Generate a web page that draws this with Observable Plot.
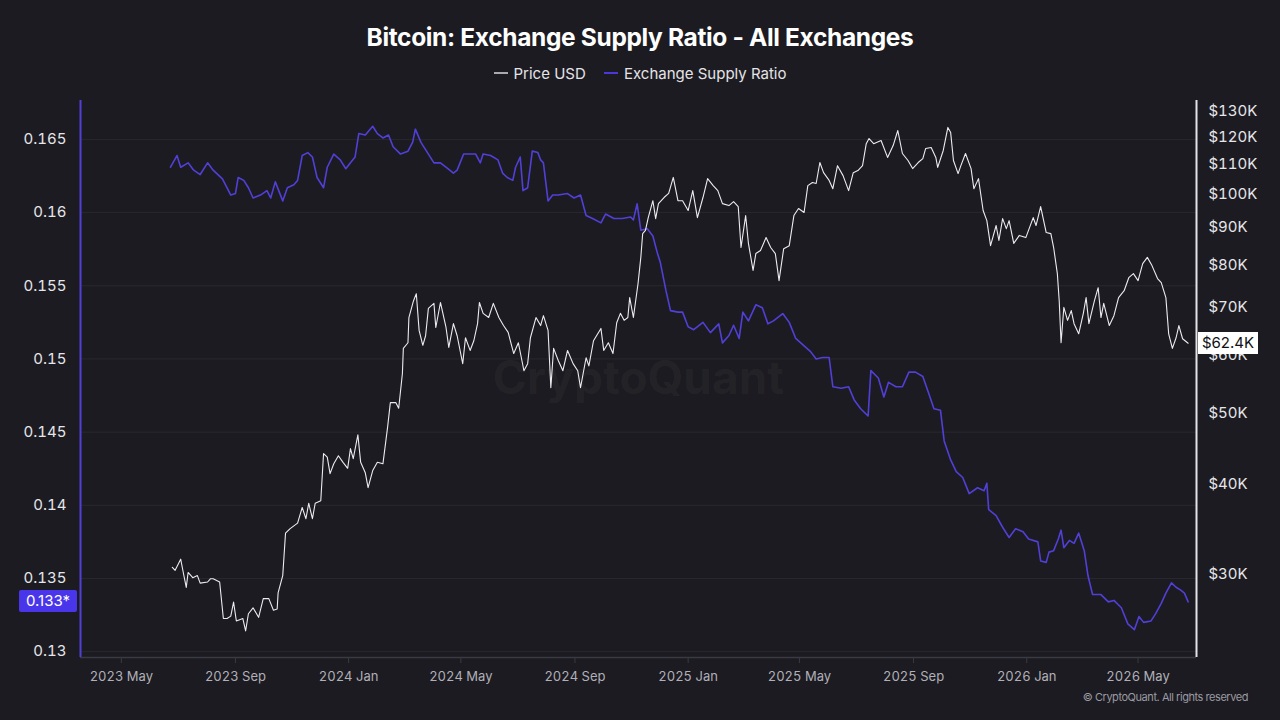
<!DOCTYPE html>
<html>
<head>
<meta charset="utf-8">
<script src="https://cdn.jsdelivr.net/npm/d3@7"></script>
<script src="https://cdn.jsdelivr.net/npm/@observablehq/plot@0.6"></script>
<style>
  html, body { margin: 0; padding: 0; background: #1c1b21; }
  #wrap { position: relative; width: 1280px; height: 720px; overflow: hidden; font-family: Inter, "Noto Sans", sans-serif; }
  #title { position: absolute; top: 22px; left: 0; width: 1280px; text-align: center; color: #ffffff; font-size: 24.5px; font-weight: 700; letter-spacing: -0.35px; }
  #legend { position: absolute; top: 59px; left: 0; width: 1280px; text-align: center; color: #e4e4e8; font-size: 15px; }
  #legend .item { display: inline-flex; align-items: center; margin: 0 7px; }
  #legend .sw { display: inline-block; width: 14px; height: 2px; margin-right: 6px; }
  .layer { position: absolute; left: 0; top: 90px; }
  .badge { position: absolute; height: 22px; line-height: 22px; font-size: 15px; text-align: center; }
  #copy { position: absolute; right: 32px; top: 690px; color: #9a9aa2; font-size: 11px; letter-spacing: -0.45px; }
</style>
</head>
<body>
<div id="wrap">
  <div id="title">Bitcoin: Exchange Supply Ratio - All Exchanges</div>
  <div id="legend">
    <span class="item"><span class="sw" style="background:#a9a9b0"></span>Price USD</span>
    <span class="item"><span class="sw" style="background:#4a38dc"></span>Exchange Supply Ratio</span>
  </div>
  <div id="layer1" class="layer"></div>
  <div id="layer2" class="layer"></div>
  <div id="copy">© CryptoQuant. All rights reserved</div>
</div>
<script>
// ---------- data ----------
const ratioDates = ["2023-06-23","2023-06-30","2023-07-04","2023-07-12","2023-07-18","2023-07-25","2023-08-02","2023-08-08","2023-08-18","2023-08-27","2023-09-01","2023-09-04","2023-09-10","2023-09-15","2023-09-20","2023-09-28","2023-10-05","2023-10-09","2023-10-14","2023-10-22","2023-10-27","2023-11-03","2023-11-07","2023-11-12","2023-11-18","2023-11-23","2023-11-28","2023-12-05","2023-12-09","2023-12-16","2023-12-23","2023-12-29","2024-01-03","2024-01-08","2024-01-12","2024-01-19","2024-01-27","2024-02-01","2024-02-07","2024-02-13","2024-02-18","2024-02-26","2024-03-05","2024-03-10","2024-03-13","2024-03-19","2024-03-26","2024-04-02","2024-04-09","2024-04-17","2024-04-23","2024-04-27","2024-05-04","2024-05-11","2024-05-17","2024-05-22","2024-05-25","2024-06-02","2024-06-10","2024-06-15","2024-06-20","2024-06-26","2024-06-29","2024-07-04","2024-07-07","2024-07-12","2024-07-17","2024-07-23","2024-07-26","2024-07-29","2024-08-03","2024-08-08","2024-08-14","2024-08-24","2024-08-31","2024-09-07","2024-09-13","2024-09-20","2024-09-29","2024-10-04","2024-10-13","2024-10-22","2024-10-31","2024-11-03","2024-11-07","2024-11-11","2024-11-18","2024-11-24","2024-11-29","2024-12-02","2024-12-08","2024-12-13","2024-12-21","2024-12-26","2025-01-01","2025-01-07","2025-01-17","2025-01-25","2025-02-03","2025-02-07","2025-02-14","2025-02-19","2025-02-25","2025-03-01","2025-03-07","2025-03-15","2025-03-22","2025-03-28","2025-04-03","2025-04-13","2025-04-20","2025-04-27","2025-05-06","2025-05-13","2025-05-19","2025-05-26","2025-06-02","2025-06-06","2025-06-15","2025-06-23","2025-06-29","2025-07-06","2025-07-14","2025-07-17","2025-07-25","2025-07-31","2025-08-05","2025-08-13","2025-08-20","2025-08-27","2025-09-03","2025-09-11","2025-09-17","2025-09-23","2025-09-30","2025-10-04","2025-10-11","2025-10-17","2025-10-24","2025-10-31","2025-11-09","2025-11-16","2025-11-19","2025-11-21","2025-11-29","2025-12-06","2025-12-13","2025-12-20","2025-12-28","2026-01-03","2026-01-13","2026-01-16","2026-01-22","2026-01-25","2026-01-30","2026-02-04","2026-02-07","2026-02-10","2026-02-16","2026-02-21","2026-02-26","2026-03-04","2026-03-08","2026-03-13","2026-03-22","2026-03-30","2026-04-05","2026-04-13","2026-04-20","2026-04-27","2026-05-02","2026-05-07","2026-05-15","2026-05-20","2026-05-26","2026-05-31","2026-06-06","2026-06-11","2026-06-16","2026-06-20","2026-06-24"];
const ratioValues = [0.1631,0.1639,0.1631,0.1634,0.1629,0.1626,0.1634,0.1629,0.1623,0.1612,0.1613,0.1624,0.1622,0.1617,0.1610,0.1612,0.1615,0.1610,0.1621,0.1608,0.1617,0.1619,0.1622,0.1639,0.1641,0.1638,0.1624,0.1617,0.1631,0.1640,0.1636,0.1630,0.1634,0.1638,0.1654,0.1653,0.1659,0.1654,0.1651,0.1653,0.1645,0.1640,0.1642,0.1648,0.1657,0.1648,0.1641,0.1634,0.1634,0.1630,0.1627,0.1629,0.1640,0.1640,0.1640,0.1634,0.1640,0.1639,0.1636,0.1627,0.1624,0.1622,0.1631,0.1638,0.1615,0.1617,0.1642,0.1641,0.1636,0.1634,0.1608,0.1612,0.1612,0.1613,0.1610,0.1612,0.1598,0.1596,0.1593,0.1599,0.1596,0.1596,0.1597,0.1595,0.1606,0.1588,0.1589,0.1584,0.1572,0.1566,0.1547,0.1533,0.1532,0.1532,0.1522,0.1520,0.1525,0.1518,0.1524,0.1511,0.1516,0.1523,0.1514,0.1532,0.1526,0.1537,0.1535,0.1524,0.1526,0.1531,0.1525,0.1514,0.1509,0.1505,0.1500,0.1501,0.1501,0.1481,0.1480,0.1481,0.1472,0.1466,0.1461,0.1492,0.1487,0.1474,0.1484,0.1481,0.1481,0.1491,0.1491,0.1488,0.1477,0.1466,0.1465,0.1444,0.1431,0.1423,0.1419,0.1408,0.1412,0.1410,0.1415,0.1397,0.1393,0.1385,0.1378,0.1384,0.1382,0.1377,0.1375,0.1362,0.1361,0.1368,0.1369,0.1377,0.1383,0.1371,0.1376,0.1374,0.1381,0.1369,0.1352,0.1339,0.1339,0.1334,0.1335,0.1330,0.1319,0.1315,0.1324,0.1320,0.1321,0.1326,0.1333,0.1340,0.1347,0.1344,0.1342,0.1340,0.1334];

const priceDates = ["2023-06-25","2023-06-28","2023-07-04","2023-07-07","2023-07-10","2023-07-12","2023-07-17","2023-07-22","2023-07-25","2023-08-02","2023-08-05","2023-08-08","2023-08-15","2023-08-19","2023-08-23","2023-08-27","2023-08-30","2023-09-02","2023-09-09","2023-09-12","2023-09-15","2023-09-20","2023-09-26","2023-10-01","2023-10-07","2023-10-12","2023-10-16","2023-10-17","2023-10-22","2023-10-25","2023-10-30","2023-11-07","2023-11-12","2023-11-16","2023-11-19","2023-11-23","2023-11-26","2023-12-02","2023-12-05","2023-12-09","2023-12-12","2023-12-16","2023-12-21","2023-12-26","2023-12-31","2024-01-03","2024-01-06","2024-01-11","2024-01-14","2024-01-19","2024-01-22","2024-01-27","2024-02-01","2024-02-07","2024-02-12","2024-02-15","2024-02-21","2024-02-24","2024-02-28","2024-02-29","2024-03-05","2024-03-06","2024-03-11","2024-03-14","2024-03-17","2024-03-21","2024-03-24","2024-03-27","2024-04-02","2024-04-04","2024-04-09","2024-04-15","2024-04-18","2024-04-23","2024-04-27","2024-05-03","2024-05-06","2024-05-11","2024-05-15","2024-05-19","2024-05-21","2024-05-25","2024-05-31","2024-06-05","2024-06-11","2024-06-16","2024-06-21","2024-06-27","2024-07-02","2024-07-08","2024-07-12","2024-07-15","2024-07-21","2024-07-26","2024-07-29","2024-08-03","2024-08-06","2024-08-09","2024-08-14","2024-08-19","2024-08-24","2024-08-30","2024-09-04","2024-09-07","2024-09-13","2024-09-16","2024-09-21","2024-09-29","2024-10-02","2024-10-07","2024-10-12","2024-10-16","2024-10-20","2024-10-24","2024-10-28","2024-10-30","2024-11-03","2024-11-08","2024-11-11","2024-11-13","2024-11-16","2024-11-19","2024-11-24","2024-11-27","2024-11-30","2024-12-06","2024-12-11","2024-12-16","2024-12-21","2024-12-26","2025-01-01","2025-01-06","2025-01-11","2025-01-17","2025-01-22","2025-01-28","2025-02-02","2025-02-07","2025-02-14","2025-02-19","2025-02-24","2025-02-27","2025-03-04","2025-03-07","2025-03-12","2025-03-15","2025-03-20","2025-03-26","2025-03-31","2025-04-05","2025-04-09","2025-04-14","2025-04-20","2025-04-25","2025-04-30","2025-05-06","2025-05-10","2025-05-15","2025-05-19","2025-05-23","2025-05-27","2025-06-02","2025-06-06","2025-06-11","2025-06-17","2025-06-23","2025-06-28","2025-07-03","2025-07-08","2025-07-12","2025-07-15","2025-07-20","2025-07-28","2025-08-04","2025-08-10","2025-08-15","2025-08-20","2025-08-26","2025-08-31","2025-09-06","2025-09-11","2025-09-14","2025-09-20","2025-09-25","2025-09-27","2025-10-03","2025-10-08","2025-10-11","2025-10-14","2025-10-19","2025-10-22","2025-10-27","2025-11-02","2025-11-05","2025-11-10","2025-11-15","2025-11-19","2025-11-23","2025-11-29","2025-12-02","2025-12-06","2025-12-10","2025-12-13","2025-12-18","2025-12-24","2025-12-31","2026-01-08","2026-01-11","2026-01-16","2026-01-22","2026-01-27","2026-01-30","2026-02-03","2026-02-05","2026-02-07","2026-02-10","2026-02-14","2026-02-18","2026-02-21","2026-02-26","2026-03-03","2026-03-06","2026-03-09","2026-03-15","2026-03-19","2026-03-22","2026-03-25","2026-03-31","2026-04-05","2026-04-10","2026-04-16","2026-04-21","2026-04-26","2026-05-01","2026-05-06","2026-05-11","2026-05-16","2026-05-22","2026-05-26","2026-05-31","2026-06-03","2026-06-07","2026-06-11","2026-06-14","2026-06-18","2026-06-24"];
const priceValues = [30700,30400,31500,30100,28800,30200,29700,29900,29200,29300,29600,29600,29300,26100,26100,26300,27500,25900,26100,25100,26500,27000,26200,27800,27800,26800,26900,28300,29900,34200,34700,35300,37100,35800,37600,35800,37600,37900,44000,43500,41300,42600,43700,42800,42000,44700,43300,46700,42800,41400,39500,41700,42800,42600,47800,51700,51700,50800,56700,61400,62500,67700,71400,73000,65000,62000,63900,69700,70800,65600,71000,65600,61600,66400,63900,58500,63500,61000,62900,66400,71000,68600,67700,70800,67700,66000,64600,60400,62500,57200,58500,63500,67700,66000,68100,65000,54200,61400,59100,57200,61000,58500,57200,54200,59600,58100,62900,65400,61000,62500,60400,66600,68600,67100,67700,72100,67700,75400,81900,88300,89200,92900,98000,92600,97100,99000,100300,105500,98000,98000,95000,101200,92900,99000,105100,102800,101200,97100,96500,97700,96200,84500,93500,85600,78600,82900,83700,87200,84500,82900,76100,84200,85000,93500,95600,94400,102800,103800,103500,110600,107100,104500,101800,109500,106100,101200,107100,107800,109500,117400,119300,117400,118600,112400,116700,122400,113800,111300,108500,110600,112000,115600,116000,112400,108900,114900,123600,121600,111300,106800,109500,113800,108500,101800,105100,95000,92000,85000,90600,86400,92600,89700,92000,85600,87800,87200,92900,90600,96200,88600,88300,84500,77800,71400,62500,69900,67100,69200,66400,64300,68600,72100,66400,71400,74400,67700,70800,66000,68100,72100,73700,76800,77800,76100,80300,81900,79800,76600,75600,72100,64300,61400,63500,66000,63300,62400];

const ratioTicks = [0.13, 0.135, 0.14, 0.145, 0.15, 0.155, 0.16, 0.165];
const priceTicks = [30000, 40000, 50000, 60000, 70000, 80000, 90000, 100000, 110000, 120000, 130000];
const monthTicks = ["2023-05-01","2023-09-01","2024-01-01","2024-05-01","2024-09-01","2025-01-01","2025-05-01","2025-09-01","2026-01-01","2026-05-01"];

const xDomain = [new Date("2023-03-18"), new Date("2026-07-03")];
const ratioDomain = [0.1296, 0.16766];
const priceDomain = [23070, 134600];

// ---------- build ----------
const ratioRows = ratioDates.map((d, i) => ({date: new Date(d), value: ratioValues[i]}));
const priceRows = priceDates.map((d, i) => ({date: new Date(d), value: priceValues[i]}));

const W = 1280, H = 630;
const M = {marginTop: 10, marginBottom: 63, marginLeft: 80, marginRight: 84};
const fmtMonth = d3.utcFormat("%Y %b");
const BLUE = "#5040d8";

const fig1 = Plot.plot({
  width: W, height: H, ...M,
  style: {background: "transparent", color: "#e6e6ea", fontFamily: "Inter, 'Noto Sans', sans-serif", overflow: "visible"},
  x: {type: "utc", domain: xDomain},
  y: {domain: ratioDomain},
  marks: [
    Plot.gridY(ratioTicks, {stroke: "#ffffff", strokeOpacity: 0.06}),
    Plot.text(["CryptoQuant"], {frameAnchor: "middle", fontSize: 46, fontWeight: 700, fill: "#ffffff", fillOpacity: 0.045}),
    Plot.ruleY([ratioDomain[0]], {stroke: "#3a3a42", strokeWidth: 1.5}),
    Plot.axisX(monthTicks.map(d => new Date(d)), {tickSize: 6, tickPadding: 8, tickFormat: fmtMonth, stroke: "#3a3a42", fill: "#b0b0b8", fontSize: 13, label: null}),
    Plot.axisY(ratioTicks, {anchor: "left", tickSize: 0, tickPadding: 14, tickFormat: d => String(+d.toFixed(3)), fill: "#e6e6ea", fontSize: 15, label: null}),
    Plot.ruleX([xDomain[0]], {stroke: BLUE, strokeWidth: 2}),
    Plot.lineY(ratioRows, {x: "date", y: "value", stroke: BLUE, strokeWidth: 1.6})
  ]
});

const fig2 = Plot.plot({
  width: W, height: H, ...M,
  style: {background: "transparent", color: "#e6e6ea", fontFamily: "Inter, 'Noto Sans', sans-serif", overflow: "visible"},
  x: {type: "utc", domain: xDomain, axis: null},
  y: {type: "log", domain: priceDomain},
  marks: [
    Plot.axisY(priceTicks, {anchor: "right", tickSize: 0, tickPadding: 12, tickFormat: d => "$" + (d / 1000) + "K", fill: "#e6e6ea", fontSize: 15, label: null}),
    Plot.ruleX([xDomain[1]], {stroke: "#e4e4e8", strokeWidth: 2}),
    Plot.lineY(priceRows, {x: "date", y: "value", stroke: "#ececf0", strokeWidth: 1.1})
  ]
});

document.getElementById("layer1").appendChild(fig1);
document.getElementById("layer2").appendChild(fig2);

// last-value badges positioned with the plots' own scales
const wrap = document.getElementById("wrap");
const lastRatio = ratioValues[ratioValues.length - 1];
const lastPrice = priceValues[priceValues.length - 1];
const yR = fig1.scale("y").apply(lastRatio) + 90;
const yP = fig2.scale("y").apply(lastPrice) + 90;

const b1 = document.createElement("div");
b1.className = "badge";
b1.textContent = lastRatio.toFixed(3) + "*";
Object.assign(b1.style, {left: "19px", width: "58px", top: (yR - 11) + "px", background: "#4a36ea", color: "#ffffff", borderRadius: "2px"});
wrap.appendChild(b1);

const b2 = document.createElement("div");
b2.className = "badge";
b2.textContent = "$" + (lastPrice / 1000).toFixed(1) + "K";
Object.assign(b2.style, {left: "1198px", width: "60px", top: (yP - 11) + "px", background: "#ffffff", color: "#111114"});
wrap.appendChild(b2);
</script>
</body>
</html>
